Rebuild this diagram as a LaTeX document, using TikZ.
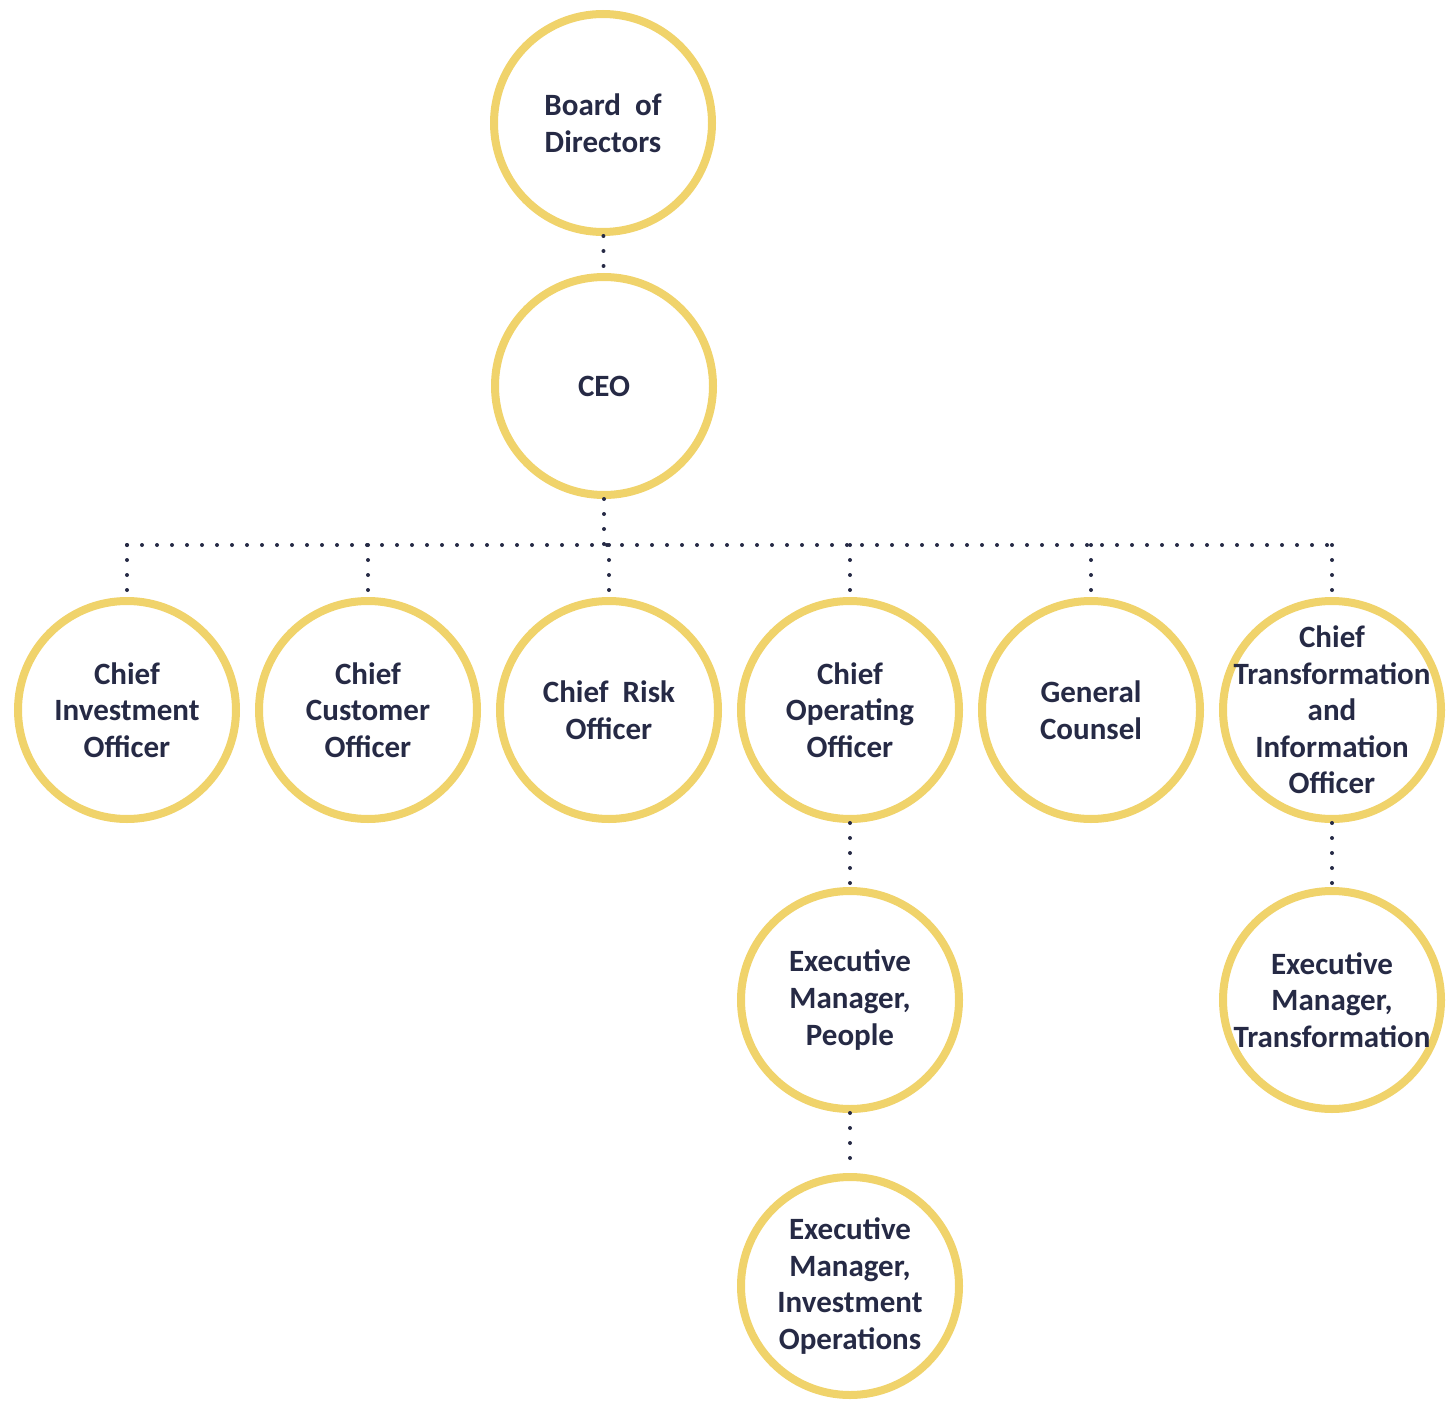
\documentclass[tikz,border=0pt]{standalone}
\usepackage{fontspec}
\setmainfont{Carlito}
\usetikzlibrary{positioning,calc}
\definecolor{ring}{HTML}{F0D36B}
\definecolor{ink}{HTML}{262A45}

\begin{document}
\begin{tikzpicture}[x=0.5pt,y=-0.5pt, node distance=7.5pt and 7.5pt,
 every node/.style={font=\fontsize{15.5}{18.3}\selectfont\bfseries,text=ink},
 role/.style={circle,draw=ring,line width=4pt,minimum size=109pt,inner sep=0pt,align=center,fill=white},
 dots/.style={draw=ink,line width=2pt,line cap=round,dash pattern=on 0pt off 7.5pt}]
\useasboundingbox (0,0) rectangle (1456,1407);
% top of the chart
\node[role] (board) at (603,123) {Board\ \ of\\Directors};
\node[role] (ceo) at (604,386) {CEO};
% direct reports
\node[role] (cio) at (127,710) {Chief\\Investment\\Officer};
\node[role,right=of cio] (cco) {Chief\\Customer\\Officer};
\node[role,right=of cco] (cro) {Chief\ \ Risk\\Officer};
\node[role,right=of cro] (coo) {Chief\\Operating\\Officer};
\node[role,right=of coo] (gc) {General\\Counsel};
\node[role,right=of gc,inner sep=-14pt] (ctio) {Chief\\Transformation\\and\\Information\\Officer};
% second level
\node[role,below=32pt of coo] (emp) {Executive\\Manager,\\People};
\node[role,below=30pt of emp] (emio) {Executive\\Manager,\\Investment\\Operations};
\node[role,below=32pt of ctio,inner sep=-14pt] (emt) {Executive\\Manager,\\Transformation};
% connectors
\coordinate (bus) at (604,545);
\draw[dots] (board) -- (ceo);
\draw[dots] (ceo.south) -- (bus);
\draw[dots] (bus -| cio.north) -- (bus -| ctio.north);
\foreach \r in {cio,cco,cro,coo,gc,ctio}{\draw[dots] (\r.north |- bus) -- (\r.north);}
\draw[dots] (coo) -- (emp);
\draw[dots] (emp) -- (emio);
\draw[dots] (ctio) -- (emt);
\end{tikzpicture}
\end{document}
